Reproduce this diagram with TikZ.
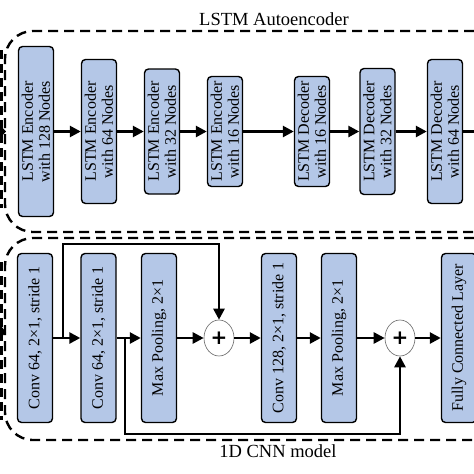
\documentclass[tikz,border=0pt]{standalone}
\usepackage{fontspec}
\setmainfont{Liberation Serif}
\newfontfamily\plusfont{DejaVu Sans}
\usetikzlibrary{arrows.meta,shapes.geometric}
\definecolor{layerblue}{RGB}{180,199,231}
\tikzset{
	>={Triangle[length=11pt,width=11pt]}
}
\newcommand{\layerbox}[5]{
	\node[layer, minimum width=#4] (#1) at (#2,#3) {#5};}

\begin{document}
\begin{tikzpicture}[
x = 1pt, y = -1pt,
layer/.style = {
	draw, fill = layerblue, line width = 1.4pt, rounded corners = 4pt,
	rotate = 90, minimum height = 35pt, inner sep = 0.5pt,
	align = center, font = \fontsize{16}{17}\selectfont,
},
sumnode/.style = {
	ellipse, draw = black!60, line width = 0.6pt, fill = white,
	minimum width = 30pt, minimum height = 36pt, inner sep = 0pt,
	font = \plusfont\bfseries\fontsize{20}{20}\selectfont,
},
flow/.style = {->, line width = 2.6pt},
groupbox/.style = {line width = 2.4pt, dash pattern = on 10pt off 6pt, rounded corners = 28pt},
edgedash/.style = {line width = 3.5pt, dash pattern = on 9pt off 5pt},
title/.style = {font = \fontsize{18.5}{20}\selectfont, inner sep = 0pt},
]
\useasboundingbox (0,0) rectangle (474,474);

% LSTM autoencoder
\layerbox{e128}{36}{131.5}{170pt}{LSTM Encoder\\with 128 Nodes}
\layerbox{e64}{99}{131.5}{144pt}{LSTM Encoder\\with 64 Nodes}
\layerbox{e32}{162}{131.5}{125pt}{LSTM Encoder\\with 32 Nodes}
\layerbox{e16}{225}{131.5}{110pt}{LSTM Encoder\\with 16 Nodes}
\layerbox{d16}{312}{131.5}{110pt}{LSTM Decoder\\with 16 Nodes}
\layerbox{d32}{377.5}{131.5}{126pt}{LSTM Decoder\\with 32 Nodes}
\layerbox{d64}{445}{131.5}{144pt}{LSTM Decoder\\with 64 Nodes}
\coordinate (aeout) at (474,131.5);

\draw[flow] (e128) -- (e64);
\draw[flow] (e64) -- (e32);
\draw[flow] (e32) -- (e16);
\draw[flow] (e16) -- (d16);
\draw[flow] (d16) -- (d32);
\draw[flow] (d32) -- (d64);
\draw[flow, -] (d64) -- (aeout);

% 1D CNN
\layerbox{c1}{35}{338}{169pt}{Conv 64, 2×1, stride 1}
\layerbox{c2}{98.5}{338}{169pt}{Conv 64, 2×1, stride 1}
\layerbox{mp1}{159}{338}{169pt}{Max Pooling, 2×1}
\node[sumnode] (p1) at (219,338) {+};
\layerbox{c3}{279}{338}{169pt}{Conv 128, 2×1, stride 1}
\layerbox{mp2}{339}{338}{169pt}{Max Pooling, 2×1}
\node[sumnode] (p2) at (400,338) {+};
\layerbox{fc}{459}{338}{169pt}{Fully Connected Layer}
\coordinate (br1) at (63,338);
\coordinate (br2) at (125,338);

\draw[flow] (c1) -- (c2);
\draw[flow] (c2) -- (mp1);
\draw[flow] (mp1) -- (p1);
\draw[flow] (p1) -- (c3);
\draw[flow] (c3) -- (mp2);
\draw[flow] (mp2) -- (p2);
\draw[flow] (p2) -- (fc);
\draw[flow] (br1) -- ++(0,-94) -| (p1);
\draw[flow] (br2) -- ++(0,96) -| (p2);

% group frames
\draw[groupbox] (474,31) -| (5,232) -- (474,232);
\draw[groupbox] (474,238) -| (5,440) -- (474,440);
\node[title] (aetitle) at (274,19) {LSTM Autoencoder};
\node[title] (cnntitle) at (278,451) {1D CNN model};

% left edge
\draw[edgedash] (1.5,50) -- (1.5,208);
\draw[edgedash] (1.5,262) -- (1.5,420);
\fill (0,125) -- (6,131.5) -- (0,138) -- cycle;
\fill (0,325) -- (6,332) -- (0,339) -- cycle;

\end{tikzpicture}
\end{document}
